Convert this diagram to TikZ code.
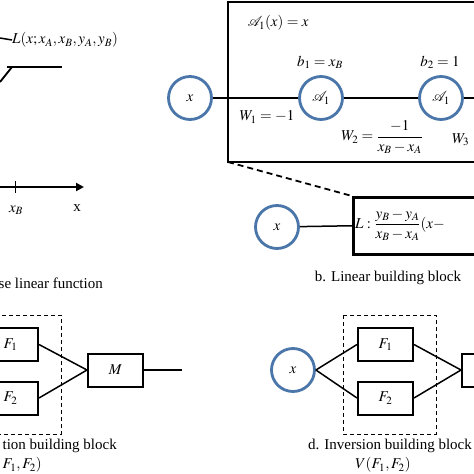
\documentclass[tikz,border=0pt]{standalone}
\usepackage{xcolor}
\usepackage{tikz}
\usepackage{amsmath}
\usepackage{mathptmx}
\usepackage{mathrsfs}
\usepackage{fontspec}
\setmainfont{Liberation Serif}
\usetikzlibrary{arrows.meta}

\definecolor{ringblue}{RGB}{74,118,170}
\tikzset{
  neuron/.style={circle, draw=ringblue, line width=2.8pt, minimum size=43pt, inner sep=0pt, fill=white},
  block/.style={draw, line width=2pt, minimum width=55pt, minimum height=33pt, inner sep=0pt},
  wire/.style={line width=1.5pt},
  group/.style={draw, line width=1pt, dash pattern=on 4pt off 3pt},
}

\begin{document}
\begin{tikzpicture}[x=1pt, y=-1pt, font=\fontsize{15}{18}\selectfont]
				\useasboundingbox (0,0) rectangle (474,474);
				\clip (0,0) rectangle (474,474);
				
				% a. piecewise linear function
				\coordinate (aL) at (0,38);
				\node[anchor=west, inner sep=0pt] (Llab) at (12,40) {$L(x;x_A,x_B,y_A,y_B)$};
				\draw[wire] (aL) -- (Llab.west);
				\draw[line width=1.8pt] (0,82) -- (12,67);
				\draw[line width=1.8pt] (7,67) -- (62,67);
				\coordinate (ax0) at (0,187);
				\coordinate (ax1) at (84,187);
				\draw[line width=2.2pt, -{Triangle[length=8pt,width=8pt]}] (ax0) -- (ax1);
				\draw[line width=0.6pt] (15,181) -- (15,193);
				\node (xB) at (16,210) {$x_B$};
				\node (xaxis) at (77,208) {x};
				\node[anchor=east, inner sep=0pt] (capa) at (103,283) {se linear function};
				
				% b. linear building block
				\draw[line width=2.5pt] (480,2) -- (228,2) -- (228,162) -- (480,162);
				\node (actdef) at (278,23) {$\mathscr{A}_1(x)=x$};
				\node[neuron] (xin) at (190,98) {$x$};
				\node[neuron] (act1) at (321,98) {$\mathscr{A}_1$};
				\node[neuron] (act2) at (441,98) {$\mathscr{A}_1$};
				\coordinate (bout) at (480,98);
				\draw[wire] (xin) -- (act1);
				\draw[wire] (act1) -- (act2);
				\draw[wire] (act2) -- (bout);
				\node (b1) at (320,62) {$b_1=x_B$};
				\node (b2) at (440,62) {$b_2=1$};
				\node (w1) at (267,117) {$W_1=-1$};
				\node (w2) at (382,137) {$W_2=\dfrac{-1}{x_B-x_A}$};
				\node[anchor=west, inner sep=0pt] (w3) at (452,140) {$W_3$};
				
				\node[block, line width=2.5pt, minimum width=160pt, minimum height=57pt, anchor=north west] (Lbox) at (352,196) {};
				\node[anchor=west, inner sep=0pt] (Ltext) at (355,225) {$L:\dfrac{y_B-y_A}{x_B-x_A}(x-$};
				\node[neuron] (xlin) at (277,227) {$x$};
				\draw[wire] (xlin) -- (Lbox.west);
				\coordinate (zoomc) at (228,162);
				\draw[line width=1.8pt, dash pattern=on 6pt off 4pt] (zoomc) -- (Lbox.north west);
				\node (capb) at (388,278) {b. Linear building block};
				
				% c. building block with M
				\draw[group] (-10,315) rectangle (61,434);
				\node[block] (F1c) at (10.5,344.5) {$F_1$};
				\node[block] (F2c) at (10.5,398) {$F_2$};
				\node[block] (Mc) at (115.5,370) {$M$};
				\coordinate (cout) at (182,370);
				\draw[wire] (F1c.east) -- (Mc.west);
				\draw[wire] (F2c.east) -- (Mc.west);
				\draw[wire] (Mc.east) -- (cout);
				\node[anchor=east, inner sep=0pt] (capc) at (117,446) {tion building block};
				\node[anchor=east, inner sep=0pt] (capc2) at (42,465) {$F_1,F_2)$};
				
				% d. inversion building block
				\draw[group] (343,315) rectangle (436,434);
				\node[neuron] (xinv) at (293,370) {$x$};
				\node[block] (F1d) at (385.5,344.5) {$F_1$};
				\node[block] (F2d) at (385.5,398) {$F_2$};
				\node[block] (Md) at (489.5,370) {};
				\draw[wire] (xinv.east) -- (F1d.west);
				\draw[wire] (xinv.east) -- (F2d.west);
				\draw[wire] (F1d.east) -- (Md.west);
				\draw[wire] (F2d.east) -- (Md.west);
				\node (capd) at (390,446) {d. Inversion building block};
				\node (capd2) at (383,465) {$V(F_1,F_2)$};
			\end{tikzpicture}
\end{document}
